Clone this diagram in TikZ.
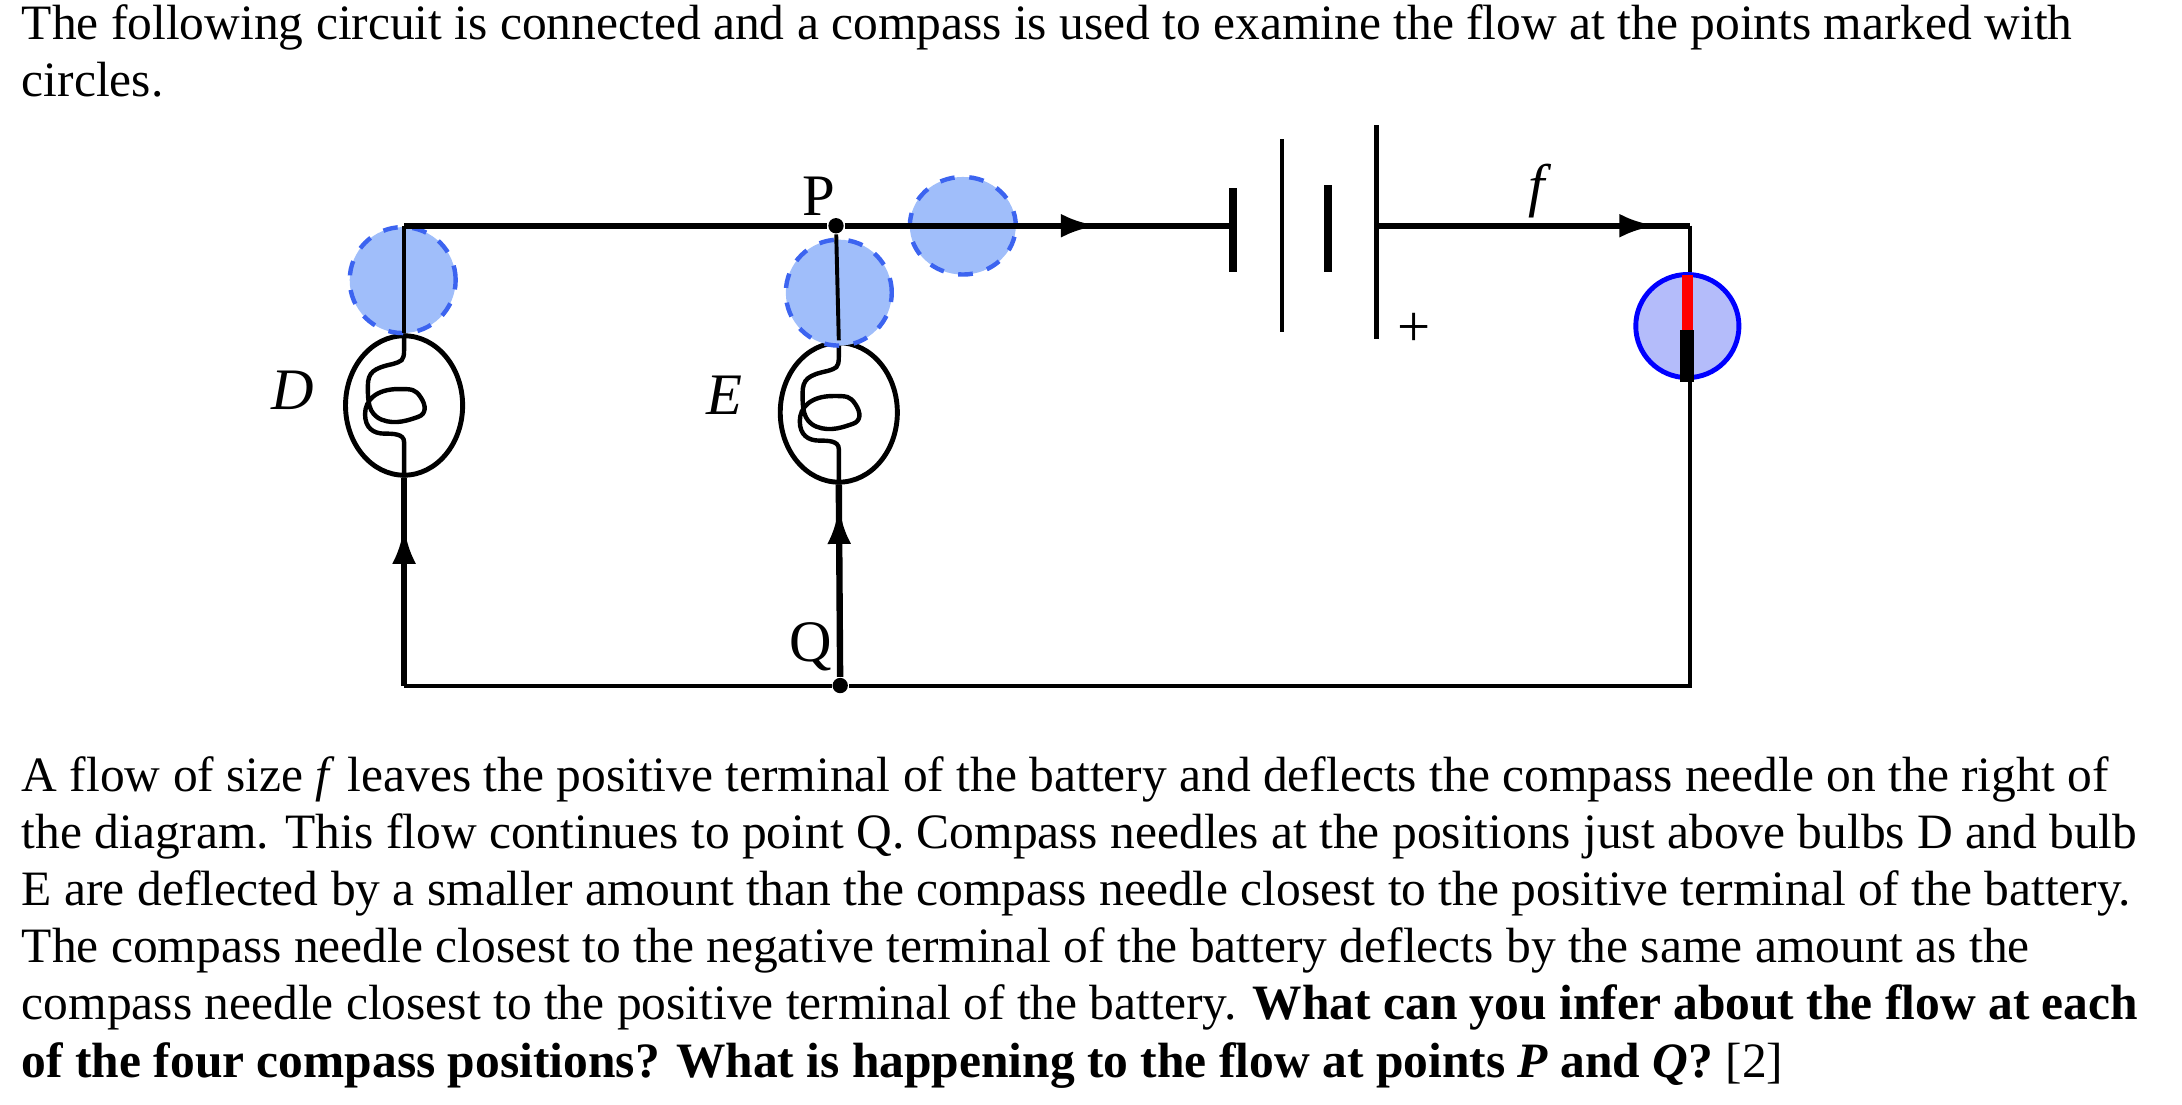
\documentclass[tikz,border=0pt]{standalone}
\usepackage{fontspec}
\setmainfont{Liberation Serif}
\usetikzlibrary{shapes.geometric,arrows.meta,decorations.markings}
\definecolor{compassfill}{RGB}{160,190,250}
\definecolor{compassline}{RGB}{60,100,240}
\definecolor{needlefill}{RGB}{180,188,250}
\begin{document}
\begin{tikzpicture}[x=0.01cm,y=-0.01cm,
	wire/.style={line width=1.3pt},
	txt/.style={anchor=base west, inner sep=0pt, font=\fontsize{10.1}{11.6}\selectfont},
	bulb/.style={ellipse, draw, line width=1pt, minimum width=0.84cm, minimum height=1.0cm, inner sep=0pt},
	compass/.style={circle, fill=compassfill, draw=compassline, dashed, line width=0.9pt, minimum size=0.76cm, inner sep=0pt},
	dot/.style={circle, fill=black, inner sep=0pt, minimum size=0.11cm},
	arr/.style={postaction={decorate}, decoration={markings, mark=at position #1 with {\arrow{Latex[length=0.26cm,width=0.17cm]}}}}
	]
	\useasboundingbox (0,0) rectangle (1566,792.4);

	% question text
	\node [txt] at (15,28) {The following circuit is connected and a compass is used to examine the flow at the points marked with};
	\node [txt] at (15,69) {circles.};
	\node [txt] at (15,568) {A flow of size \textit{f} leaves the positive terminal of the battery and deflects the compass needle on the right of};
	\node [txt] at (15,609) {the diagram. This flow continues to point Q. Compass needles at the positions just above bulbs D and bulb};
	\node [txt] at (15,650) {E are deflected by a smaller amount than the compass needle closest to the positive terminal of the battery.};
	\node [txt] at (15,691) {The compass needle closest to the negative terminal of the battery deflects by the same amount as the};
	\node [txt] at (15,732) {compass needle closest to the positive terminal of the battery. \textbf{What can you infer about the flow at each}};
	\node [txt] at (15,773) {\textbf{of the four compass positions? What is happening to the flow at points \textit{P} and \textit{Q}?} [2]};

	% junctions and corners
	\coordinate (tl) at (290,162);
	\node (P) [dot] at (600,162) {};
	\node (Q) [dot] at (603,492) {};
	\coordinate (bl) at (290,492);
	\coordinate (tr) at (1213,162);
	\coordinate (br) at (1213,492);

	% bulbs
	\node (bulbD) [bulb] at (290,291) {};
	\node (bulbE) [bulb] at (602,296) {};
	\foreach \b in {bulbD,bulbE}{
		\draw [line width=0.9pt] (\b.north) -- ++(0,12) .. controls +(0,8) and +(6,-2) .. ++(-8,10)
			.. controls +(-14,3) and +(0,-10) .. ++(-18,16)
			.. controls +(0,10) and +(-10,-4) .. ++(10,24)
			.. controls +(10,4) and +(-6,2) .. ++(26,-2)
			.. controls +(6,-2) and +(4,6) .. ++(2,-14)
			.. controls +(-4,-6) and +(10,0) .. ++(-16,-6)
			.. controls +(-16,0) and +(0,-10) .. ++(-24,18)
			.. controls +(0,10) and +(-8,0) .. ++(14,14)
			.. controls +(6,0) and +(0,-6) .. ++(14,6) -- (\b.south);
	}
	\node at (210,280) {\fontsize{12}{12}\selectfont\textit{D}};
	\node at (520,284) {\fontsize{12}{12}\selectfont\textit{E}};

	% battery plates
	\coordinate (negT) at (885,162);
	\coordinate (posT) at (988,162);
	\draw [line width=1.5pt] (885,135) -- (885,195);
	\draw [line width=0.9pt] (920,100) -- (920,238);
	\draw [line width=1.5pt] (953,133) -- (953,195);
	\draw [line width=0.9pt] (988,90) -- (988,243);
	\node at (1015,237) {\fontsize{12}{12}\selectfont +};

	% compasses behind the wires
	\node (cD) [compass] at (289,201) {};
	\node (cE) [compass] at (602,210) {};
	\node (cP) [compass, minimum width=0.76cm, minimum height=0.7cm, ellipse] at (691,162) {};

	% wires
	\draw [wire] (tl) -- (P);
	\draw [wire, arr=0.65] (P) -- (negT);
	\draw [wire, arr=0.89] (posT) -- (tr);
	\draw [line width=0.8pt] (tr) -- (br) -- (Q) -- (bl);
	\draw [line width=0.8pt] (tl) -- (bulbD.north);
	\draw [line width=0.8pt] (P) -- (bulbE.north);
	\draw [wire, arr=0.76] (bl) -- (bulbD.south);
	\draw [wire, arr=0.88] (Q) -- (bulbE.south);
	\node at (588,141) {\fontsize{12}{12}\selectfont P};
	\node at (582,464) {\fontsize{12}{12}\selectfont Q};
	\node at (1105,137) {\fontsize{12}{12}\selectfont\textit{f}};

	% compass with needle
	\node (cR) [circle, fill=needlefill, draw=blue, line width=1pt, minimum size=0.74cm, inner sep=0pt] at (1211,234) {};
	\fill [red] (1207,197) rectangle (1215,237);
	\fill [black] (1206,237) rectangle (1216,274);
\end{tikzpicture}
\end{document}
